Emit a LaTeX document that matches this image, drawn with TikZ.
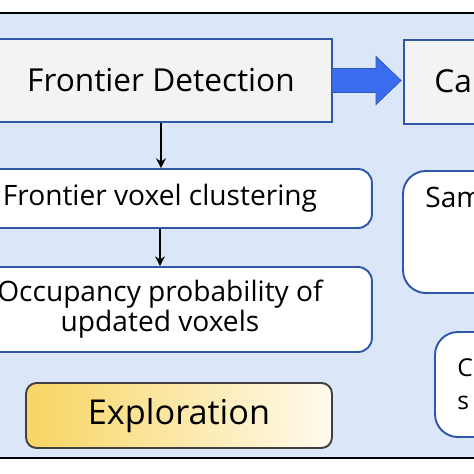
\documentclass[tikz,border=0pt]{standalone}
\usepackage{fontspec}
\setmainfont{Open Sans}
\usepackage{tikz}
\usetikzlibrary{calc,positioning,arrows.meta}

\definecolor{bgblue}{RGB}{219,231,249}
\definecolor{lineblue}{RGB}{47,88,168}
\definecolor{fatblue}{RGB}{58,108,238}
\definecolor{boxgray}{RGB}{243,243,243}
\definecolor{goldleft}{RGB}{248,213,98}
\definecolor{goldright}{RGB}{255,251,238}

\tikzset{
    sqbox/.style={draw=lineblue, line width=1.1pt, fill=boxgray},
    rbox/.style={draw=lineblue, line width=1.1pt, fill=white, rounded corners=8pt},
    bigbox/.style={draw=lineblue, line width=1.1pt, fill=white, rounded corners=13pt},
    goldbox/.style={draw=black!75, line width=1.1pt, rounded corners=6pt,
        left color=goldleft, right color=goldright},
    flow/.style={-{Stealth[length=5.5pt,width=5.5pt]}, line width=1.2pt},
    txt/.style={font=\fontsize{16}{18}\selectfont},
    headtxt/.style={font=\fontsize{18}{20}\selectfont}
}

\begin{document}
\begin{tikzpicture}[x=0.02cm, y=-0.02cm]
    \useasboundingbox (0,0) rectangle (474,474);
    \clip (0,0) rectangle (474,474);
    % panel
    \fill[bgblue] (0,13) rectangle (474,458);
    \draw[line width=0.9pt] (0,13) -- (474,13);
    \draw[line width=1.2pt] (0,458) -- (474,458);
    % left column
    \node[sqbox, headtxt, minimum width=6.84cm, minimum height=1.66cm] (detect) at (161,80.5) {Frontier Detection};
    \node[rbox, txt, minimum width=8.48cm, minimum height=1.18cm] (cluster) at (160,198.5) {Frontier voxel clustering};
    \node[rbox, txt, minimum width=8.48cm, minimum height=1.7cm, align=center] (occup) at (160,309.5)
        {Occupancy probability of\\[-1pt]updated voxels};
    \node[goldbox, minimum width=6.12cm, minimum height=1.3cm,
          font=\fontsize{19.5}{22}\selectfont] (explore) at (179,415.5) {Exploration};
    % right column (cut by the frame)
    \node[sqbox, minimum width=4.8cm, minimum height=1.68cm] (cand) at (524,82) {};
    \node[bigbox, minimum width=4.8cm, minimum height=2.44cm] (sample) at (523,232) {};
    \node[bigbox, minimum width=4.8cm, minimum height=2.1cm] (cbox) at (555,384.5) {};
    \node[headtxt, anchor=base west, inner sep=0pt] (candtxt) at ($(cand.west)+(31,10)$) {Ca};
    \node[txt, anchor=base west, inner sep=0pt] (sampletxt) at ($(sample.north west)+(23,37)$) {Sam};
    \node[font=\fontsize{14}{16}\selectfont, anchor=base west, inner sep=0pt] (ctxt) at ($(cbox.north west)+(23,45)$) {C};
    \node[font=\fontsize{14}{16}\selectfont, anchor=base west, inner sep=0pt] (stxt) at ($(cbox.north west)+(23,78)$) {s};
    % arrows
    \draw[flow] (detect.south) -- (detect.south |- cluster.north);
    \draw[flow] (cluster.south) -- (occup.north);
    \coordinate (tip) at ($(detect.east -| cand.west)+(-2,0)$);
    \draw[fill=fatblue, draw=fatblue!80!black, line width=0.4pt]
        ($(detect.east)+(-1,-12)$) -- ($(tip)+(-25,-12)$) -- ($(tip)+(-25,-24)$) -- (tip)
        -- ($(tip)+(-25,24)$) -- ($(tip)+(-25,12)$) -- ($(detect.east)+(-1,12)$) -- cycle;
\end{tikzpicture}
\end{document}
